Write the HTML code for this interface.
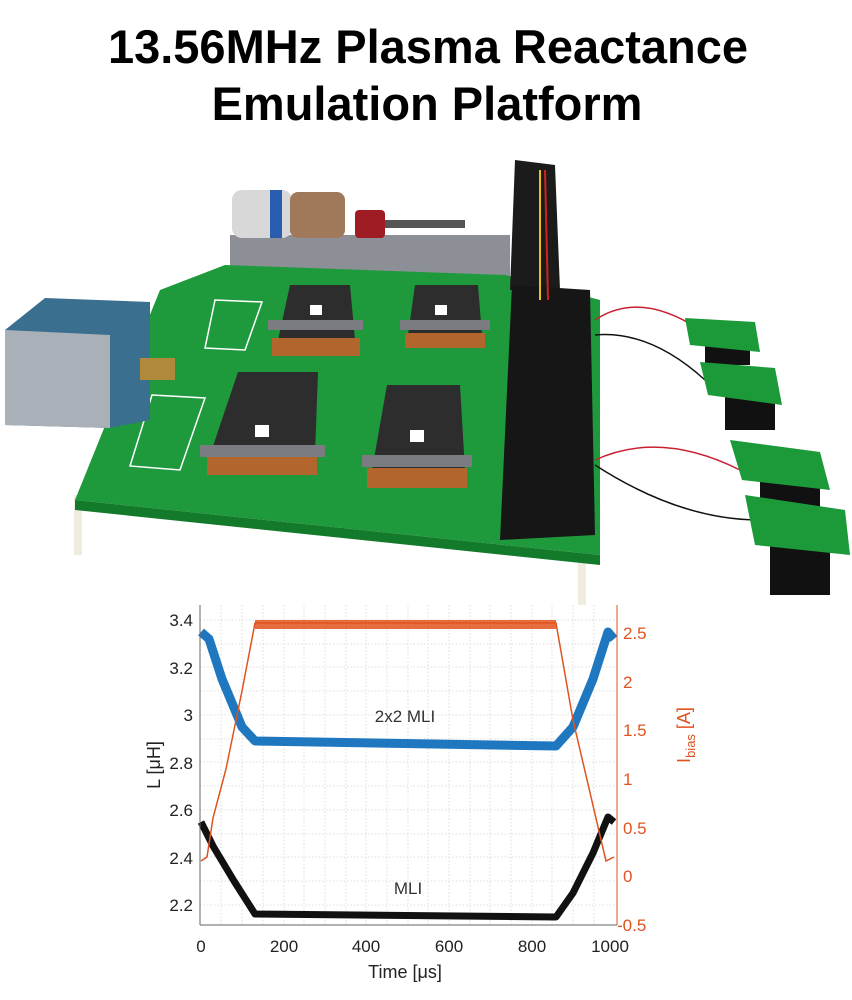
<!DOCTYPE html>
<html><head><meta charset="utf-8"><style>
body{margin:0;background:#fff;width:852px;height:1000px;overflow:hidden;font-family:"Liberation Sans",sans-serif}
svg{position:absolute;left:0;top:0}
</style></head><body>
<svg width="852" height="1000" viewBox="0 0 852 1000">
<text x="428" y="63" text-anchor="middle" font-size="47" font-weight="bold" fill="#000">13.56MHz Plasma Reactance</text>
<text x="427" y="120" text-anchor="middle" font-size="47" font-weight="bold" fill="#000">Emulation Platform</text>

<g>
 <rect x="74" y="495" width="8" height="60" fill="#f0ece0"/>
 <rect x="578" y="550" width="8" height="55" fill="#f0ece0"/>
 <rect x="230" y="235" width="280" height="55" fill="#8c8f95"/>
 <rect x="232" y="190" width="60" height="48" rx="10" fill="#d8d8d8"/>
 <rect x="270" y="190" width="12" height="48" fill="#2a5cb0"/>
 <rect x="290" y="192" width="55" height="46" rx="8" fill="#a0785a"/>
 <rect x="355" y="210" width="30" height="28" rx="4" fill="#a01c24"/>
 <rect x="385" y="220" width="80" height="8" fill="#555"/>
 <polygon points="225,265 505,275 600,300 600,555 75,500 160,290" fill="#1e9a3c"/>
 <polygon points="75,500 600,555 600,565 75,510" fill="#137a2b"/>
 <polygon points="215,300 262,302 245,350 205,348" fill="none" stroke="#fff" stroke-width="1.5"/>
 <polygon points="152,395 205,398 180,470 130,466" fill="none" stroke="#fff" stroke-width="1.5"/>
 <polygon points="5,330 45,298 150,302 150,420 110,428 5,425" fill="#3a6f90"/>
 <polygon points="5,330 110,335 110,428 5,425" fill="#a9b0b8"/>
 <rect x="140" y="358" width="35" height="22" fill="#b08a3a"/>
 <g fill="#2d2d2d">
  <polygon points="290,285 350,285 355,340 278,340"/>
  <polygon points="415,285 478,285 482,335 408,335"/>
  <polygon points="238,372 318,372 315,455 210,455"/>
  <polygon points="387,385 460,385 465,470 372,470"/>
 </g>
 <g fill="#b2652c">
  <rect x="272" y="338" width="88" height="18"/>
  <rect x="405" y="333" width="80" height="15"/>
  <rect x="207" y="455" width="110" height="20"/>
  <rect x="367" y="468" width="100" height="20"/>
 </g>
 <g fill="#7a7c82">
  <rect x="268" y="320" width="95" height="10"/>
  <rect x="400" y="320" width="90" height="10"/>
  <rect x="200" y="445" width="125" height="12"/>
  <rect x="362" y="455" width="110" height="12"/>
 </g>
 <g fill="#fff">
  <rect x="310" y="305" width="12" height="10"/><rect x="435" y="305" width="12" height="10"/>
  <rect x="255" y="425" width="14" height="12"/><rect x="410" y="430" width="14" height="12"/>
 </g>
 <polygon points="515,160 555,165 560,290 510,290" fill="#1b1b1b"/>
 <polygon points="512,285 590,290 595,535 500,540" fill="#161616"/>
 <line x1="540" y1="170" x2="540" y2="300" stroke="#e8c020" stroke-width="2"/>
 <line x1="545" y1="170" x2="548" y2="300" stroke="#d02020" stroke-width="2"/>
 <path d="M595,320 Q640,290 700,330" stroke="#c82030" stroke-width="1.5" fill="none"/>
 <path d="M595,335 Q650,330 705,380" stroke="#111" stroke-width="1.5" fill="none"/>
 <path d="M595,460 Q660,430 740,470" stroke="#c82030" stroke-width="1.5" fill="none"/>
 <path d="M595,465 Q680,520 760,520" stroke="#111" stroke-width="1.5" fill="none"/>
 <g>
  <rect x="705" y="335" width="45" height="30" fill="#111"/>
  <polygon points="685,318 755,322 760,352 690,345" fill="#1c9a3a"/>
  <rect x="725" y="390" width="50" height="40" fill="#111"/>
  <polygon points="700,362 775,368 782,405 708,395" fill="#1c9a3a"/>
  <rect x="760" y="470" width="60" height="40" fill="#111"/>
  <polygon points="730,440 820,452 830,490 742,480" fill="#1c9a3a"/>
  <rect x="770" y="545" width="60" height="50" fill="#111"/>
  <polygon points="745,495 845,510 850,555 755,545" fill="#1c9a3a"/>
 </g>
</g>

<g stroke="#d4d4d4" stroke-width="0.8" stroke-dasharray="1.5,2">
 <line x1="221" y1="605" x2="221" y2="925"/><line x1="242" y1="605" x2="242" y2="925"/><line x1="263" y1="605" x2="263" y2="925"/><line x1="284" y1="605" x2="284" y2="925"/><line x1="304" y1="605" x2="304" y2="925"/><line x1="325" y1="605" x2="325" y2="925"/><line x1="346" y1="605" x2="346" y2="925"/><line x1="366" y1="605" x2="366" y2="925"/><line x1="387" y1="605" x2="387" y2="925"/><line x1="408" y1="605" x2="408" y2="925"/><line x1="428" y1="605" x2="428" y2="925"/><line x1="449" y1="605" x2="449" y2="925"/><line x1="470" y1="605" x2="470" y2="925"/><line x1="490" y1="605" x2="490" y2="925"/><line x1="511" y1="605" x2="511" y2="925"/><line x1="532" y1="605" x2="532" y2="925"/><line x1="552" y1="605" x2="552" y2="925"/><line x1="573" y1="605" x2="573" y2="925"/><line x1="594" y1="605" x2="594" y2="925"/>
 <line x1="200" y1="620" x2="617" y2="620"/><line x1="200" y1="644" x2="617" y2="644"/><line x1="200" y1="667" x2="617" y2="667"/><line x1="200" y1="691" x2="617" y2="691"/><line x1="200" y1="715" x2="617" y2="715"/><line x1="200" y1="739" x2="617" y2="739"/><line x1="200" y1="762" x2="617" y2="762"/><line x1="200" y1="786" x2="617" y2="786"/><line x1="200" y1="810" x2="617" y2="810"/><line x1="200" y1="834" x2="617" y2="834"/><line x1="200" y1="857" x2="617" y2="857"/><line x1="200" y1="881" x2="617" y2="881"/><line x1="200" y1="905" x2="617" y2="905"/>
</g>
<polyline points="201,632 209,639 222,679 242,727 255,741 556,746 573,727 593,679 608,632 614,639" fill="none" stroke="#1f77c0" stroke-width="9" stroke-linejoin="round"/>
<polyline points="201,822 213,846 234,881 255,914 556,917 573,893 593,853 608,817 614,822" fill="none" stroke="#111" stroke-width="7" stroke-linejoin="round"/>
<polyline points="201,861 207,857 213,818 226,769 242,691 255,623 556,623 573,720 606,861 614,857" fill="none" stroke="#e0531e" stroke-width="1.5"/>
<rect x="255" y="620" width="301" height="9" fill="#e0531e" opacity="0.85"/>
<line x1="200" y1="605" x2="200" y2="925" stroke="#666"/>
<line x1="200" y1="925" x2="617" y2="925" stroke="#666"/>
<line x1="617" y1="605" x2="617" y2="925" stroke="#e0531e"/>
<g font-size="17" fill="#222" text-anchor="end">
 <text x="193" y="626">3.4</text><text x="193" y="674">3.2</text><text x="193" y="721">3</text><text x="193" y="769">2.8</text><text x="193" y="816">2.6</text><text x="193" y="864">2.4</text><text x="193" y="911">2.2</text>
</g>
<g font-size="17" fill="#e0531e">
 <text x="623" y="639">2.5</text><text x="623" y="688">2</text><text x="623" y="736">1.5</text><text x="623" y="785">1</text><text x="623" y="834">0.5</text><text x="623" y="882">0</text><text x="617" y="931">-0.5</text>
</g>
<g font-size="17" fill="#222" text-anchor="middle">
 <text x="201" y="952">0</text><text x="284" y="952">200</text><text x="366" y="952">400</text><text x="449" y="952">600</text><text x="532" y="952">800</text><text x="610" y="952">1000</text>
 <text x="405" y="978" font-size="18">Time [μs]</text>
 <text x="405" y="722" fill="#333">2x2 MLI</text>
 <text x="408" y="894" fill="#333">MLI</text>
</g>
<text transform="translate(160,765) rotate(-90)" text-anchor="middle" font-size="18" fill="#222">L [μH]</text>
<text transform="translate(690,735) rotate(-90)" text-anchor="middle" font-size="18" fill="#e0531e">I<tspan font-size="13" dy="5">bias</tspan><tspan dy="-5"> [A]</tspan></text>
</svg>
</body></html>
